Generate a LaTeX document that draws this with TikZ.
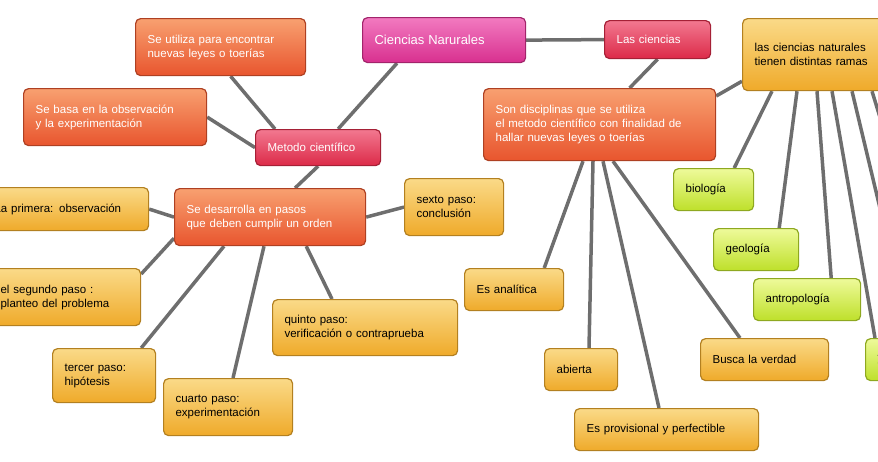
\documentclass[tikz,border=0pt]{standalone}
\usepackage{fontspec}
\setmainfont{Liberation Sans}
\usetikzlibrary{backgrounds}
\definecolor{linegray}{HTML}{6E6E6E}
\definecolor{pinktop}{HTML}{F27AC0}\definecolor{pinkbot}{HTML}{D8308F}
\definecolor{redtop}{HTML}{F27890}\definecolor{redbot}{HTML}{DC2A48}
\definecolor{oratop}{HTML}{F8A070}\definecolor{orabot}{HTML}{E8552E}
\definecolor{yeltop}{HTML}{FADA88}\definecolor{yelbot}{HTML}{EFAA2A}
\definecolor{grntop}{HTML}{EEFA9A}\definecolor{grnbot}{HTML}{BEE02A}
\begin{document}
\begin{tikzpicture}[x=1pt,y=-1pt,
font=\fontsize{11.5}{14}\selectfont,
mbox/.style={draw,rounded corners=5pt,line width=1.2pt,align=left,inner xsep=12pt,inner ysep=3pt,anchor=north west},
pinkbox/.style={mbox,draw=pinkbot!75!black,top color=pinktop,bottom color=pinkbot,text=white},
redbox/.style={mbox,draw=redbot!75!black,top color=redtop,bottom color=redbot,text=white},
orabox/.style={mbox,draw=orabot!75!black,top color=oratop,bottom color=orabot,text=white},
yelbox/.style={mbox,draw=yelbot!75!black,top color=yeltop,bottom color=yelbot,text=black},
grnbox/.style={mbox,draw=grnbot!75!black,top color=grntop,bottom color=grnbot,text=black},
link/.style={draw=linegray,line width=3.5pt}]
\useasboundingbox (0,0) rectangle (878,461);

% cientific method side
\node[pinkbox,minimum width=163,minimum height=45,text width=139] (cn) at (362,17) {\fontsize{13}{15}\selectfont Ciencias Narurales};
\node[redbox,minimum width=125,minimum height=36,text width=101] (met) at (255,129) {Metodo científico};
\node[orabox,minimum width=170,minimum height=57,text width=146] (util) at (135,18) {Se utiliza para encontrar\\nuevas leyes o toerías};
\node[orabox,minimum width=183,minimum height=57,text width=159] (basa) at (23,88) {Se basa en la observación\\y la experimentación};
\node[orabox,minimum width=191,minimum height=57,text width=167] (pasos) at (174,188) {Se desarrolla en pasos\\que deben cumplir un orden};
\node[yelbox,minimum width=166,minimum height=43,text width=142] (p1) at (-18,187) {La primera: observación};
\node[yelbox,minimum width=99,minimum height=57,text width=75] (p6) at (404,178) {sexto paso:\\conclusión};
\node[yelbox,minimum width=152,minimum height=57,text width=128] (p2) at (-12,268) {el segundo paso :\\ planteo del problema};
\node[yelbox,minimum width=185,minimum height=56,text width=161] (p5) at (272,299) {quinto paso:\\verificación o contraprueba};
\node[yelbox,minimum width=103,minimum height=54,text width=79] (p3) at (52,348) {tercer paso:\\hipótesis};
\node[yelbox,minimum width=129,minimum height=57,text width=105] (p4) at (163,378) {cuarto paso:\\experimentación};

% sciences side
\node[redbox,minimum width=106,minimum height=38,text width=82] (lc) at (604,20) {Las ciencias};
\node[yelbox,minimum width=160,minimum height=72,text width=136,inner ysep=8pt] (ramas) at (742,18) {las ciencias naturales\\tienen distintas ramas};
\node[orabox,minimum width=232,minimum height=72,text width=208] (disc) at (483,88) {Son disciplinas que se utiliza\\el metodo científico con finalidad de\\hallar nuevas leyes o toerías};
\node[yelbox,minimum width=99,minimum height=42,text width=75] (ana) at (464,268) {Es analítica};
\node[yelbox,minimum width=73,minimum height=42,text width=49] (abi) at (544,348) {abierta};
\node[yelbox,minimum width=184,minimum height=42,text width=160] (prov) at (574,408) {Es provisional y  perfectible};
\node[yelbox,minimum width=128,minimum height=42,text width=104] (verd) at (700,338) {Busca la verdad};
\node[grnbox,minimum width=80,minimum height=42,text width=56] (bio) at (673,168) {biología};
\node[grnbox,minimum width=85,minimum height=42,text width=61] (geo) at (713,228) {geología};
\node[grnbox,minimum width=107,minimum height=42,text width=83] (ant) at (753,278) {antropología};
\node[grnbox,minimum width=60,minimum height=42,text width=36] (gx) at (865,338) {y};
\coordinate (r1) at (890,150);
\coordinate (r2) at (890,250);

% connectors behind the boxes
\begin{scope}[on background layer]
\draw[link] (cn.south west) ++(35,0) -- ([xshift=20]met.north);
\draw[link] (cn.east) -- (lc.west);
\draw[link] (lc.south) -- ([xshift=30]disc.north);
\draw[link] (ramas.south west) ++(0,-10) -- ([yshift=-8]disc.north east);
\draw[link] ([xshift=20]met.north west) -- ([xshift=10]util.south);
\draw[link] (met.west) -- (basa.east);
\draw[link] (met.south) -- ([xshift=25]pasos.north);
\draw[link] (pasos.west) -- (p1.east);
\draw[link] (pasos.east) -- (p6.west);
\draw[link] ([yshift=8]pasos.south west) -- ([yshift=-6]p2.north east);
\draw[link] ([xshift=50]pasos.south west) -- ([xshift=-15]p3.north east);
\draw[link] ([xshift=90]pasos.south west) -- ([xshift=70]p4.north west);
\draw[link] ([xshift=-60]pasos.south east) -- ([xshift=60]p5.north west);
\draw[link] ([xshift=100]disc.south west) -- ([xshift=-20]ana.north east);
\draw[link] ([xshift=110]disc.south west) -- ([xshift=45]abi.north west);
\draw[link] ([xshift=120]disc.south west) -- ([xshift=85]prov.north west);
\draw[link] ([xshift=130]disc.south west) -- ([xshift=40]verd.north west);
\draw[link] ([xshift=30]ramas.south west) -- ([xshift=-20]bio.north east);
\draw[link] ([xshift=55]ramas.south west) -- ([xshift=-20]geo.north east);
\draw[link] ([xshift=75]ramas.south west) -- ([xshift=-30]ant.north east);
\draw[link] ([xshift=90]ramas.south west) -- ([xshift=10]gx.north west);
\draw[link] ([xshift=110]ramas.south west) -- (r2);
\draw[link] ([xshift=130]ramas.south west) -- (r1);
\end{scope}
\end{tikzpicture}
\end{document}
